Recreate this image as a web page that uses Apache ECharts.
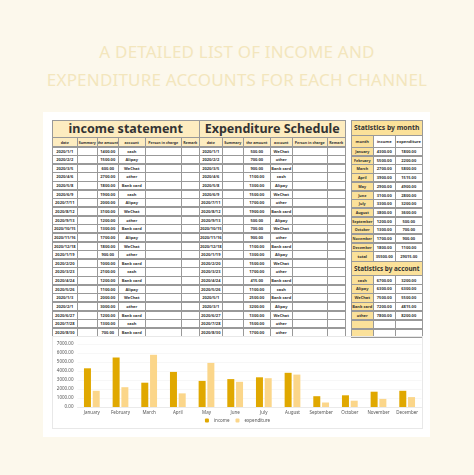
<!DOCTYPE html>
<html><head><meta charset="utf-8">
<script src="https://cdn.jsdelivr.net/npm/echarts@6/dist/echarts.min.js"></script>
<style>
body{margin:0;width:474px;height:475px;background:#fcf8ec;font-family:"Noto Sans",sans-serif;position:relative;overflow:hidden}
#title{position:absolute;left:0;top:38px;width:474px;text-align:center;color:#f3e6bd;font-size:17px;line-height:28px;letter-spacing:0.2px}
#sheet{position:absolute;left:43px;top:112px;width:387px;height:325px;background:#fff}
.c{position:absolute;border:0.5px solid #999;box-sizing:border-box;font-size:4px;font-weight:bold;color:#333;display:flex;align-items:center;justify-content:center;white-space:nowrap;overflow:hidden}
#chart{position:absolute;left:52px;top:336px;width:371px;height:93px;border:0.5px solid #e8e8e8;box-sizing:border-box}
</style></head><body>
<div id="title">A DETAILED LIST OF INCOME AND<br>EXPENDITURE ACCOUNTS FOR EACH CHANNEL</div>
<div id="sheet"></div>
<div id="tbl"></div>
<div id="chart"></div>
<script>
var months = ['January','February','March','April','May','June','July','August','September','October','November','December'];
var incomeByMonth = [4300,5500,2700,3900,2900,3100,3300,3800,1200,1300,1700,1800];
var expenseByMonth = [1800,2200,5800,1515,4900,2800,3200,3600,500,700,900,1100];
var yTicks = [0,1000,2000,3000,4000,5000,6000,7000];

var incomeDates = ['2020/1/1','2020/2/2','2020/3/5','2020/4/6','2020/5/8','2020/6/9','2020/7/11','2020/8/12','2020/9/13','2020/10/15','2020/11/16','2020/12/18','2020/1/19','2020/2/20','2020/3/23','2020/4/24','2020/5/26','2020/1/3','2020/2/1','2020/6/27','2020/7/28','2020/8/30'];
var incomeAmounts = [1400,1500,600,2700,1800,1900,2000,3100,1200,1300,1700,1800,900,1000,2100,1200,1100,2000,3000,1200,1300,700];
var incomeAccounts = ['cash','Alipay','WeChat','other','Bank card','cash','Alipay','WeChat','other','Bank card','Alipay','WeChat','other','Bank card','cash','Bank card','Alipay','WeChat','other','Bank card','cash','Bank card'];
var expenseDates = ['2020/1/1','2020/2/2','2020/3/5','2020/4/6','2020/5/8','2020/6/9','2020/7/11','2020/8/12','2020/9/13','2020/10/15','2020/11/16','2020/12/18','2020/1/19','2020/2/20','2020/3/23','2020/4/24','2020/5/26','2020/5/1','2020/3/1','2020/6/27','2020/7/28','2020/8/30'];
var expenseAmounts = [500,700,900,1100,1300,1500,1700,1900,500,700,900,1100,1300,1500,1700,415,1100,2500,3200,1300,1500,1700];
var expenseAccounts = ['WeChat','other','Bank card','cash','Alipay','WeChat','other','Bank card','Alipay','WeChat','other','Bank card','Alipay','WeChat','other','Bank card','cash','Bank card','Alipay','WeChat','other','other'];
var accounts = ['cash','Alipay','WeChat','Bank card','other'];
var accIncome = [6700,6300,7500,7200,7800];
var accExpense = [3200,6300,5500,4815,8200];

var html = '';
function cell(x1, y1, x2, y2, txt, bg, fs) {
    html += '<div class="c" style="left:' + x1 + 'px;top:' + y1 + 'px;width:' + (x2 - x1 + 0.5) + 'px;height:' + (y2 - y1 + 0.5) + 'px;' +
        (bg ? 'background:' + bg + ';' : '') + (fs ? 'font-size:' + fs + 'px;' : '') + '">' + (txt || '') + '</div>';
}
var hdr = '#fdecc0', acc = '#fbe19a';
var incX = [52, 77, 97, 118, 145, 181, 199];
var expX = [199, 222, 243, 270, 292, 327, 345];
var heads = ['date','Summary','the amount','account','Person in charge','Remark'];
cell(52, 120, 199, 137, 'income statement', hdr, 12.5);
cell(199, 120, 345, 137, 'Expenditure Schedule', hdr, 12.5);
function side(xs, dates, amts, accs) {
    for (var j = 0; j < 6; j++) cell(xs[j], 137, xs[j + 1], 146.5, heads[j], hdr, 3.6);
    var rh = 190 / 22;
    for (var i = 0; i < 22; i++) {
        var y = 146.5 + i * rh;
        var vals = [dates[i], '', amts[i].toFixed(2), accs[i], '', ''];
        for (var j = 0; j < 6; j++) cell(xs[j], y, xs[j + 1], y + rh, vals[j]);
    }
}
side(incX, incomeDates, incomeAmounts, incomeAccounts);
side(expX, expenseDates, expenseAmounts, expenseAccounts);

cell(351, 120, 422, 135, 'Statistics by month', acc, 6.8);
cell(351, 135, 373, 147, 'month', acc); cell(373, 135, 395, 147, 'income'); cell(395, 135, 422, 147, 'expenditure');
var rh2 = 8.7;
var it = 0, et = 0;
for (var i = 0; i < 12; i++) {
    var y = 147 + i * rh2;
    cell(351, y, 373, y + rh2, months[i], acc, 3.7);
    cell(373, y, 395, y + rh2, incomeByMonth[i].toFixed(2));
    cell(395, y, 422, y + rh2, expenseByMonth[i].toFixed(2));
    it += incomeByMonth[i]; et += expenseByMonth[i];
}
var yt = 147 + 12 * rh2;
cell(351, yt, 373, yt + 10, 'total', acc); cell(373, yt, 395, yt + 10, it.toFixed(2)); cell(395, yt, 422, yt + 10, et.toFixed(2));
cell(351, yt + 10, 422, yt + 24, 'Statistics by account', acc, 6.4);
for (var i = 0; i < 7; i++) {
    var y = yt + 24 + i * 8.9;
    cell(351, y, 373, y + 8.9, accounts[i] || '', acc);
    cell(373, y, 395, y + 8.9, accIncome[i] != null ? accIncome[i].toFixed(2) : '');
    cell(395, y, 422, y + 8.9, accExpense[i] != null ? accExpense[i].toFixed(2) : '');
}
document.getElementById('tbl').innerHTML = html;

var myChart = echarts.init(document.getElementById('chart'));
var option = {
    animation: false,
    textStyle: {fontFamily: 'Noto Sans'},
    grid: {left: 24.5, right: 0.5, top: 7, bottom: 21},
    legend: {
        bottom: 0, itemWidth: 4, itemHeight: 4, itemGap: 6,
        textStyle: {fontSize: 4.5, color: '#555'},
        data: ['income', 'expenditure']
    },
    xAxis: [{
        type: 'category', data: months,
        axisLine: {lineStyle: {color: '#ddd', width: 0.5}}, axisTick: {show: false},
        axisLabel: {fontSize: 4.5, color: '#555', margin: 3, interval: 0}
    }],
    yAxis: [{
        type: 'value', min: yTicks[0], max: yTicks[yTicks.length - 1], interval: 1000,
        axisLabel: {fontSize: 4.5, color: '#555', margin: 4, formatter: function (v) { return v.toFixed(2); }},
        splitLine: {lineStyle: {color: '#eee', width: 0.5}}
    }],
    series: [
        {name: 'income', type: 'bar', data: incomeByMonth, barWidth: 7, barGap: '25%', itemStyle: {color: '#e0a800'}},
        {name: 'expenditure', type: 'bar', data: expenseByMonth, barWidth: 7, itemStyle: {color: '#fbd68a'}}
    ]
};
myChart.setOption(option, true);
</script>
</body></html>
